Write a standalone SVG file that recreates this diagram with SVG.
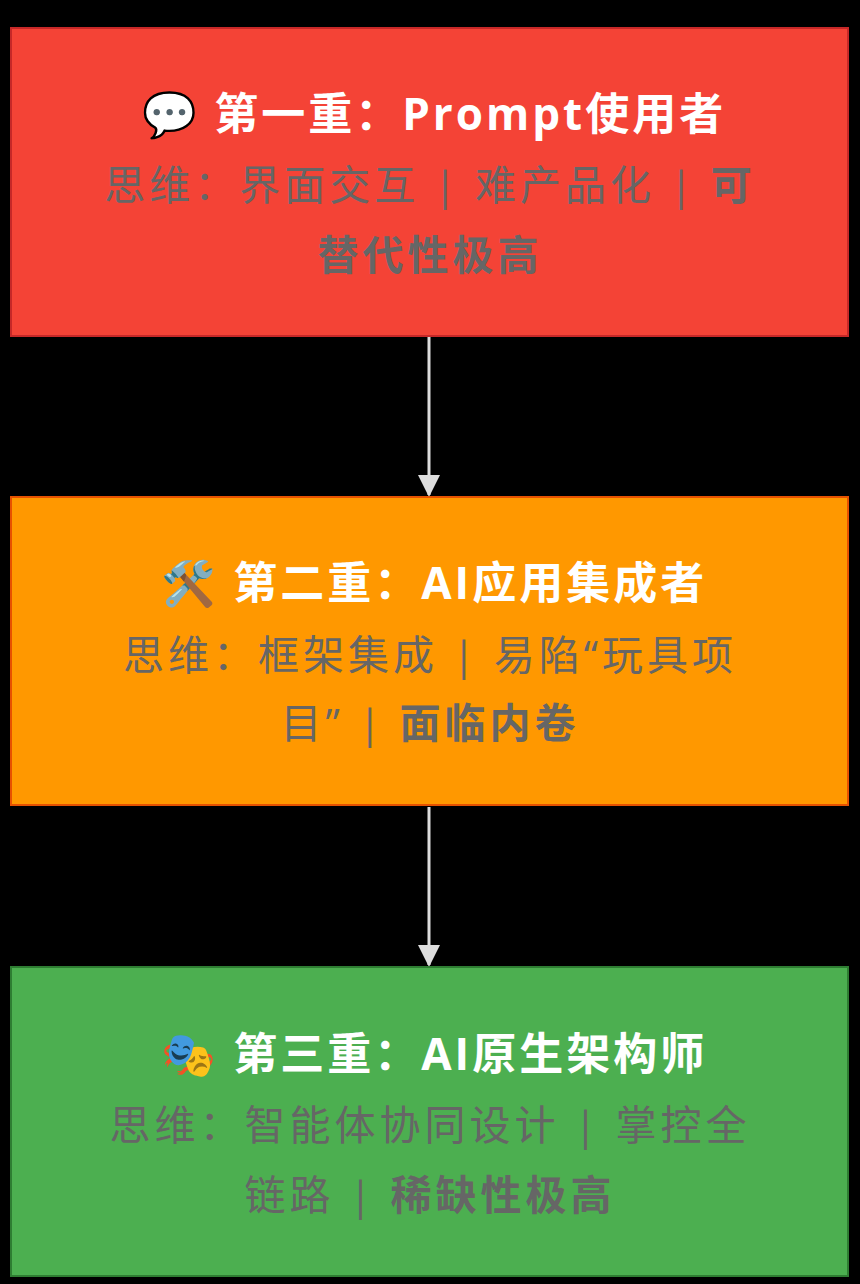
<svg xmlns="http://www.w3.org/2000/svg" width="860" height="1284" viewBox="0 0 860 1284">
<style>
.t{font-family:"Open Sans","Noto Sans CJK SC",sans-serif;font-weight:bold;font-size:44px;fill:#fff;text-anchor:middle;letter-spacing:3px}
.s{font-family:"Open Sans","Noto Sans CJK SC",sans-serif;font-size:41px;fill:#666;text-anchor:middle;letter-spacing:4px}
.b{font-weight:bold}
.e{stroke:#ddd;stroke-width:3;fill:none;marker-end:url(#a)}
</style>
<defs><marker id="a" markerWidth="24" markerHeight="24" refX="20" refY="11" orient="auto" markerUnits="userSpaceOnUse"><path d="M0,0 L22,11 L0,22 z" fill="#ddd"/></marker></defs>
<rect width="860" height="1284" fill="#000"/>
<g id="connectors">
<path class="e" d="M429,337 V495"/>
<path class="e" d="M429,807 V965"/>
</g>
<g id="n1">
<rect x="11" y="28" width="837" height="308" fill="#f44336" stroke="#c62828" stroke-width="2"/>
<text class="t" x="434" y="130">💬 第一重：Prompt使用者</text>
<text class="s" x="430" y="200">思维：界面交互 | 难产品化 | <tspan class="b">可</tspan></text>
<text class="s b" x="430" y="270">替代性极高</text>
</g>
<g id="n2">
<rect x="11" y="497" width="837" height="308" fill="#ff9800" stroke="#e65100" stroke-width="2"/>
<text class="t" x="434" y="599">🛠️ 第二重：AI应用集成者</text>
<text class="s" x="430" y="670">思维：框架集成 | 易陷“玩具项</text>
<text class="s" x="430" y="738">目” | <tspan class="b">面临内卷</tspan></text>
</g>
<g id="n3">
<rect x="11" y="967" width="837" height="309" fill="#4caf50" stroke="#2e7d32" stroke-width="2"/>
<text class="t" x="434" y="1070">🎭 第三重：AI原生架构师</text>
<text class="s" x="430" y="1140">思维：智能体协同设计 | 掌控全</text>
<text class="s" x="430" y="1210">链路 | <tspan class="b">稀缺性极高</tspan></text>
</g>
</svg>
